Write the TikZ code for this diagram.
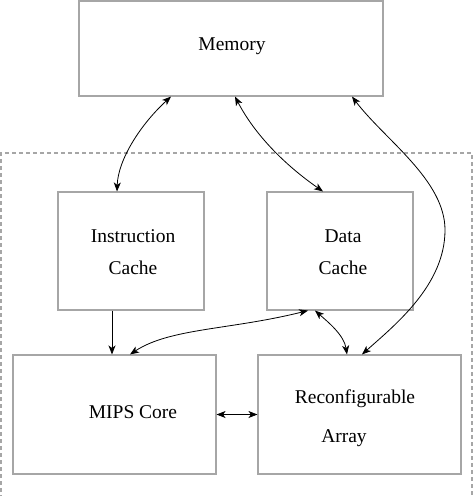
\documentclass[tikz,border=0pt]{standalone}
\usepackage{fontspec}
\setmainfont{Liberation Serif}
\usetikzlibrary{arrows.meta}

\begin{document}
\begin{tikzpicture}[x=1pt,y=-1pt,
  blk/.style={draw=gray!70,line width=1.1pt,fill=white,inner sep=0pt},
  lbl/.style={font=\fontsize{19.5}{32}\selectfont,align=center,inner sep=0pt},
  >={Stealth[length=9pt,width=7pt,inset=2.5pt]}]

\useasboundingbox (0,0) rectangle (474,496);

% chip boundary (runs past the lower edge)
\draw[gray!70,line width=1.3pt,dash pattern=on 4pt off 3pt]
     (1,520) -- (1,153) -- (472,153) -- (472,520);

% ---- blocks ----
\node[blk,minimum width=304pt,minimum height=95pt] (mem) at (231,48.5) {};
\node[blk,minimum width=146pt,minimum height=118pt] (icache) at (131,251) {};
\node[blk,minimum width=146pt,minimum height=118pt] (dcache) at (340,251) {};
\node[blk,minimum width=203pt,minimum height=119pt] (mips) at (114.5,414.5) {};
\node[blk,minimum width=203pt,minimum height=119pt] (rarray) at (359.5,414.5) {};

% ---- texts ----
\node[lbl] (memtxt) at (232,46) {Memory};
\node[lbl] (icachetxt) at (133,252) {Instruction\\Cache};
\node[lbl] (dcachetxt) at (343,252) {Data\\Cache};
\node[lbl] (mipstxt) at (133,412) {MIPS Core};
\node[lbl,font=\fontsize{19.5}{39}\selectfont] (rarraytxt) at (355,418)
     {Reconfigurable\\\hspace*{-22pt}Array};

% ---- links ----
\draw[<->,line width=0.8pt] ([xshift=-60pt]mem.south)
     .. controls (140,125) and (118,160) .. ([xshift=-14pt]icache.north);
\draw[<->,line width=0.8pt] ([xshift=4pt]mem.south)
     .. controls (255,135) and (285,165) .. ([xshift=-17pt]dcache.north);
\draw[<->,line width=0.8pt] ([xshift=121pt]mem.south)
     .. controls (385,140) and (445,180) .. (445,230)
     .. controls (445,285) and (395,325) .. ([xshift=2.5pt]rarray.north);
\draw[->,line width=0.8pt] ([xshift=-19pt]icache.south) -- ([xshift=-2.5pt]mips.north);
\draw[<->,line width=0.8pt] ([xshift=15.5pt]mips.north)
     .. controls (170,328) and (230,330) .. ([xshift=-32pt]dcache.south);
\draw[<->,line width=0.8pt] ([xshift=-25pt]dcache.south)
     .. controls (328,322) and (344,335) .. ([xshift=-12.5pt]rarray.north);
\draw[<->,line width=0.8pt] (mips.east) -- (rarray.west);

\end{tikzpicture}
\end{document}
